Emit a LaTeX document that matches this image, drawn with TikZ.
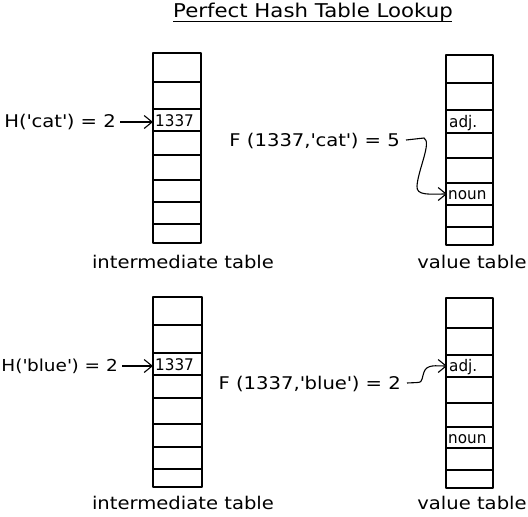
\documentclass[tikz,border=0pt]{standalone}
\usepackage{fontspec}
\setmainfont{DejaVu Sans}[FakeStretch=1.12]
\usetikzlibrary{arrows.meta}
\newcommand{\sq}{\textquotesingle}
\begin{document}
\begin{tikzpicture}[x=1pt,y=-1pt,
  every node/.style={inner sep=0pt,font=\fontsize{17.5}{20}\selectfont},
  tbl/.style={line width=1.1pt,line join=round},
  rowline/.style={line width=1.1pt},
  arr/.style={line width=1.1pt,-{Straight Barb[length=8pt,width=13pt,line width=1.1pt]}},
  celltext/.style={anchor=west,font=\fontsize{16}{18}\addfontfeature{FakeStretch=0.95}\selectfont},
  lbl/.style={font=\fontsize{17.5}{20}\selectfont},
  caption/.style={anchor=center}]
\useasboundingbox (0,0) rectangle (528,517);
% title
\node[caption,font=\fontsize{19}{22}\selectfont] (title) at (313,12) {Perfect Hash Table Lookup};
\draw[line width=0.8pt] (173,21) -- (452,21);

% ---------- top intermediate table
\draw[tbl] (153,53) rectangle (201,243);
\foreach \y in {82,109,131,155,180,202,224} \draw[rowline] (153,\y) -- (201,\y);
\node[celltext] (i1) at (155,121) {1337};
\node[caption] (it1) at (183,262) {intermediate table};
\node[lbl,anchor=east] (h1) at (116,122) {H(\sq cat\sq) = 2};
\coordinate (ci1) at (153,122);
\draw[arr] (h1.east) ++(4,0) -- (ci1);

% ---------- top value table
\draw[tbl] (446,55) rectangle (493,245);
\foreach \y in {83,110,133,158,183,205,227} \draw[rowline] (446,\y) -- (493,\y);
\node[celltext] (a1) at (449,123) {adj.};
\node[celltext] (n1) at (448,195) {noun};
\node[caption] (vt1) at (472,262) {value table};
\node[lbl,anchor=east] (f1) at (400,141) {F (1337,\sq cat\sq) = 5};
\coordinate (cv1) at (447,194);
\draw[arr] (f1.east) ++(6,-1) -- (424,138) .. controls (432,142) and (418,170) .. (417,186)
   .. controls (416,196) and (430,194) .. (cv1);

% ---------- bottom intermediate table
\draw[tbl] (153,297) rectangle (202,487);
\foreach \y in {325,353,375,398,424,447,469} \draw[rowline] (153,\y) -- (202,\y);
\node[celltext] (i2) at (155,365) {1337};
\node[caption] (it2) at (183,503) {intermediate table};
\node[lbl,anchor=east,font=\fontsize{16.5}{19}\selectfont] (h2) at (118,366) {H(\sq blue\sq) = 2};
\coordinate (ci2) at (153,366);
\draw[arr] (h2.east) ++(4,0) -- (ci2);

% ---------- bottom value table
\draw[tbl] (446,298) rectangle (493,488);
\foreach \y in {328,355,377,403,427,448,470} \draw[rowline] (446,\y) -- (493,\y);
\node[celltext] (a2) at (449,367) {adj.};
\node[celltext] (n2) at (448,439) {noun};
\node[caption] (vt2) at (472,503) {value table};
\node[lbl,anchor=east] (f2) at (401,384) {F (1337,\sq blue\sq) = 2};
\coordinate (cv2) at (447,366);
\draw[arr] (f2.east) ++(6,-1) .. controls (425,382) and (420,384) .. (424,372)
   .. controls (427,364) and (436,366) .. (cv2);
\end{tikzpicture}
\end{document}
